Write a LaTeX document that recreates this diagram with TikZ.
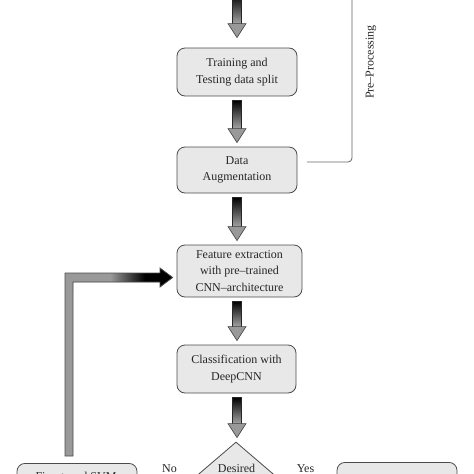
\documentclass[tikz,border=0pt]{standalone}
\usepackage{fontspec}
\setmainfont{Liberation Serif}
\usetikzlibrary{calc,shapes.geometric}
\pgfdeclarehorizontalshading{barfade}{100bp}{color(0bp)=(black!40); color(46bp)=(black!40); color(62bp)=(black); color(100bp)=(black)}
\tikzset{
  box/.style={draw=black!70, line width=0.8pt, fill=black!9, rounded corners=8pt, align=center,
    text=black!85, font=\fontsize{12}{16.3}\selectfont, inner sep=0pt},
  lbl/.style={text=black!85, font=\fontsize{12}{16.3}\selectfont, inner sep=0pt},
  shaft/.style={draw=black!85, line width=0.5pt, top color=black, bottom color=black!35},
  head/.style={draw=black!75, line width=0.6pt, fill=black!40, line join=miter},
  decision/.style={diamond, draw=black!70, line width=0.8pt, fill=black!9, inner sep=0pt},
  bracket/.style={draw=black!60, line width=0.8pt, rounded corners=4pt},
  fbbar/.style={draw=black!70, line width=0.8pt, line join=miter},
}
% #1 gap, #2 start point, #3 end point
\newcommand\fatarrow[3][4]{%
  \path (axis |- #2) ++(0,4) coordinate (fa-s);
  \path (axis |- #3) ++(0,-#1) coordinate (fa-t);
  \path (fa-t) ++(0,-14) coordinate (fa-h);
  \draw[shaft] ($(fa-s)+(-4.5,0)$) rectangle ($(fa-h)+(4.5,0.5)$);
  \draw[head] ($(fa-h)+(-9,0)$) -- ($(fa-h)+(9,0)$) -- (fa-t) -- cycle;
}
\begin{document}
\begin{tikzpicture}[x=1pt,y=-1pt]
\useasboundingbox (0,0) rectangle (474,474);
\clip (0,0) rectangle (474,474);
\coordinate (axis) at (237,0);
\coordinate (topin) at (237,-10);

\node[box, minimum width=120, minimum height=48] (b1) at (237,72) {Training and\\Testing data split};
\node[box, minimum width=120, minimum height=46] (b2) at (237,170) {Data\\Augmentation};
\node[box, minimum width=125, minimum height=52] (b3) at (239.5,271) {Feature extraction\\with pre--trained\\CNN--architecture};
\node[box, minimum width=119, minimum height=48] (b4) at (236.5,369) {Classification with\\DeepCNN};

\node[decision, minimum width=140, minimum height=120] (dec) at (236,502) {};
\node[lbl, anchor=base] (dtext) at (236.5,472) {Desired};
\node[lbl, anchor=base] (no) at (169.5,472) {No};
\node[lbl, anchor=base] (yes) at (305.5,472) {Yes};

\node[box, minimum width=120, minimum height=50, anchor=north] (svm) at (77,463) {};
\node[lbl, anchor=base] (svmtext) at (76,480) {Fine-tuned SVM};
\node[box, minimum width=120, minimum height=50, anchor=north] (res) at (397,462) {};

% pre-processing bracket
\coordinate (brtop) at (352,-5);
\coordinate (brend) at (307,162);
\draw[bracket] (brtop) -- (brtop |- brend) -- (brend);
\node[lbl, rotate=90] (pre) at (371,62) {Pre--Processing};

% vertical fat arrows
\fatarrow[10]{topin}{b1.north}
\fatarrow{b1.south}{b2.north}
\fatarrow{b2.south}{b3.north}
\fatarrow{b3.south}{b4.north}
\fatarrow{b4.south}{dec.north}

% feedback arrow from SVM box back to feature extraction
\coordinate (fbtip) at ($(b3.west)+(-4,6.5)$);
\coordinate (fbbot) at (69,456);
\def\fbpath{(65,456) -- (65,273) -- (160,273) -- (160,268) -- (fbtip) -- (160,287) -- (160,282) -- (73,282) -- (73,456) -- cycle}
\fill[black!40] \fbpath;
\begin{scope}
  \clip \fbpath;
  \shade[shading=barfade] (65,266) rectangle (173,289);
\end{scope}
\draw[fbbar] \fbpath;
\end{tikzpicture}
\end{document}
